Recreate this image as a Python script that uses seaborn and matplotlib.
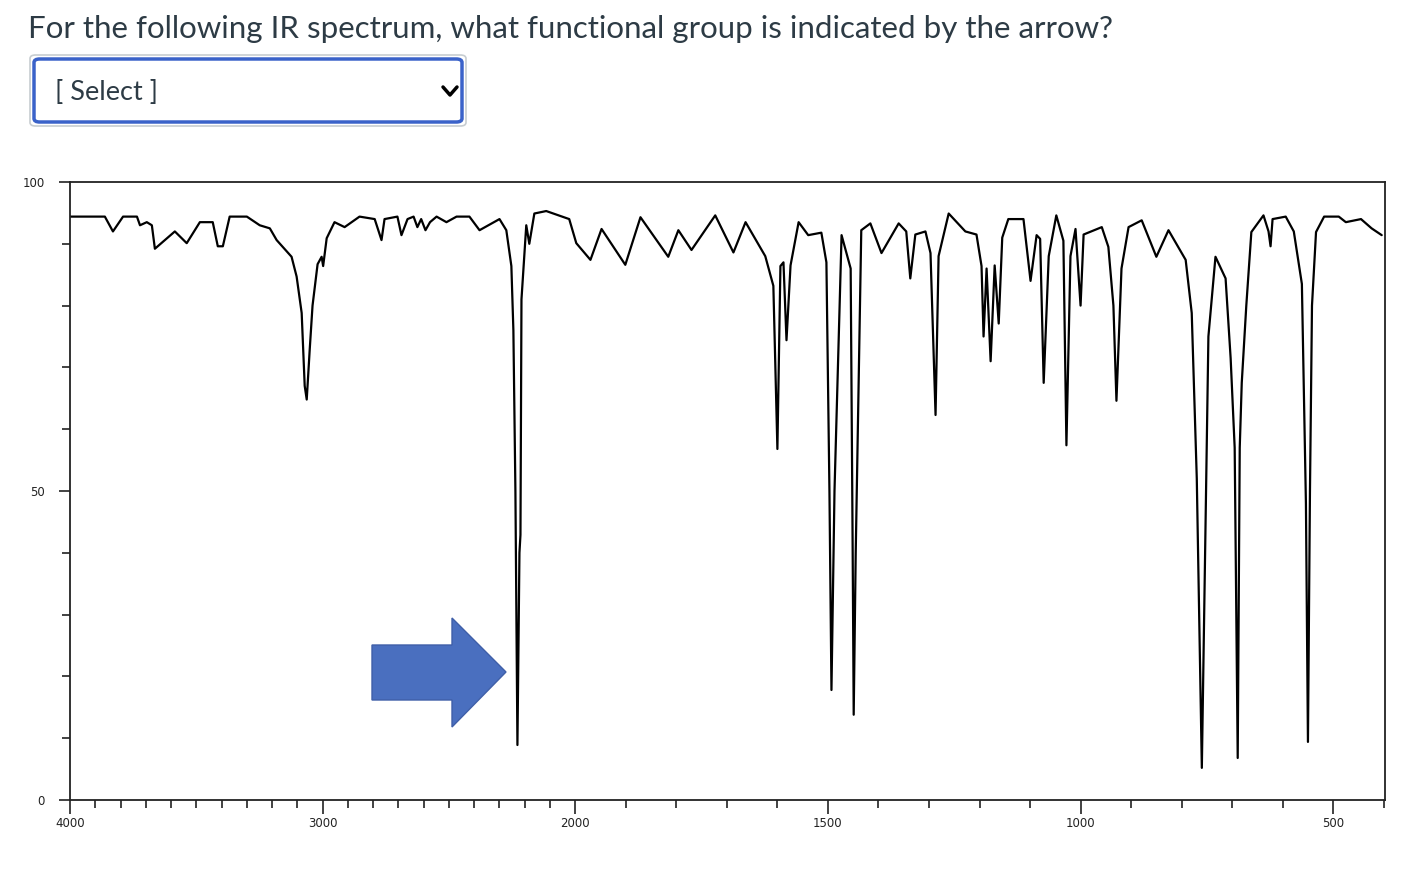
import matplotlib
matplotlib.use("Agg")
import matplotlib.pyplot as plt
import seaborn as sns
import numpy as np
import pandas as pd
from matplotlib.patches import FancyBboxPatch, Polygon
from matplotlib.ticker import FixedLocator, FixedFormatter

question = "For the following IR spectrum, what functional group is indicated by the arrow?"
select_label = "[ Select ]"

wavenumber = [4000, 3862, 3830, 3790, 3735, 3723, 3696, 3676, 3664, 3585, 3538, 3486, 3435, 3415,
              3395, 3368, 3300, 3249, 3209, 3182, 3123, 3103, 3083, 3071, 3063, 3051, 3040, 3020,
              3004, 2998, 2984, 2953, 2913, 2854, 2794, 2767, 2755, 2704, 2688, 2664, 2640, 2625,
              2610, 2593, 2575, 2549, 2510, 2470, 2419, 2379, 2300, 2273, 2253, 2245, 2237, 2229,
              2221, 2217,
              2213, 2194, 2182, 2162, 2115, 2024, 1998, 1970, 1948, 1901, 1871, 1816, 1796, 1770,
              1723, 1687, 1663, 1624, 1608, 1600, 1594, 1588, 1582, 1574, 1558, 1539, 1513, 1503,
              1497, 1493, 1487, 1473, 1455, 1451, 1449, 1445, 1434, 1416, 1394, 1360, 1345, 1337,
              1327, 1307, 1297, 1287,
              1281, 1261, 1228, 1206, 1196, 1192, 1186, 1178, 1170, 1162, 1155, 1143, 1113, 1099,
              1087, 1080, 1073, 1063, 1048, 1034, 1028, 1020, 1010, 1000, 994, 958, 945, 935, 929,
              919, 905, 879, 850, 826, 792, 780, 770, 760, 752, 747, 733, 713, 703, 695, 689, 685,
              681, 672, 662, 638,
              628, 624, 620, 594, 578, 562, 554, 550, 546, 542, 534, 518, 489, 475, 445, 424, 404]
transmittance = [94.4, 94.4, 92.0, 94.4, 94.4, 93.0, 93.5, 93.0, 89.2, 92.0, 90.1, 93.5, 93.5, 89.6,
                 89.6, 94.4, 94.4, 93.0, 92.5, 90.6, 87.9, 84.7, 78.8, 67.0, 64.8, 73.0, 80.0, 86.7,
                 87.9, 86.4, 90.9, 93.5, 92.7, 94.4, 94.0, 90.6, 94.0, 94.4, 91.4, 94.0, 94.4, 92.7,
                 94.0, 92.2, 93.5, 94.4, 93.5, 94.4, 94.4, 92.2, 94.0, 92.2, 86.4, 76.0, 50.0, 8.9,
                 40.0, 42.9,
                 81.0, 93.0, 90.0, 94.9, 95.3, 94.0, 90.1, 87.4, 92.4, 86.6, 94.3, 87.9, 92.2, 89.0,
                 94.6, 88.6, 93.5, 88.0, 83.2, 56.8, 86.4, 87.0, 74.4, 86.5, 93.5, 91.4, 91.8, 87.0,
                 50.0, 17.8, 50.0, 91.4, 86.0, 40.0, 13.8, 40.0, 92.2, 93.3, 88.5, 93.3, 92.0, 84.4,
                 91.5, 92.0, 88.5, 62.3,
                 88.0, 94.9, 92.0, 91.5, 86.4, 75.0, 86.0, 71.0, 86.5, 77.1, 91.0, 94.0, 94.0, 84.0,
                 91.4, 90.8, 67.5, 88.0, 94.6, 90.5, 57.4, 88.0, 92.4, 80.0, 91.5, 92.7, 89.5, 80.0, 64.6,
                 86.0, 92.7, 93.8, 87.9, 92.2, 87.4, 78.8, 52.0, 5.2, 48.0, 75.0, 87.9, 84.4, 71.5, 57.0,
                 6.8, 57.0, 67.5, 80.0, 91.9, 94.6,
                 92.0, 89.6, 94.0, 94.4, 92.0, 83.5, 48.0, 9.4, 50.0, 80.0, 91.9, 94.4, 94.4,
                 93.5, 94.0, 92.5, 91.4]

def to_u(w):
    w = np.asarray(w, dtype=float)
    return np.where(w >= 2000, (4000 - w) / 1000.0, 2 + (2000 - w) / 500.0)

df = pd.DataFrame({"u": to_u(wavenumber), "T": transmittance})

sns.set_style("white")
W, H = 1406, 888
fig = plt.figure(figsize=(W / 100, H / 100), dpi=100)

def fx(px): return px / W
def fy(py): return 1 - py / H

ax = fig.add_axes([fx(70), fy(800), fx(1385) - fx(70), fy(182) - fy(800)])
sns.lineplot(data=df, x="u", y="T", ax=ax, color="black", linewidth=1.6, sort=False,
             estimator=None)
ax.set_xlim(0, 5.205)
ax.set_ylim(0, 100)
ax.set_xlabel("")
ax.set_ylabel("")
for s in ax.spines.values():
    s.set_color("#222222")
    s.set_linewidth(1.3)

major_w = [4000, 3000, 2000, 1500, 1000, 500]
major_lbl = ["4000", "3000", "2000", "1500", "1000", "500"]
ax.xaxis.set_major_locator(FixedLocator(to_u(major_w)))
ax.xaxis.set_major_formatter(FixedFormatter(major_lbl))
minor_w = [w for w in range(4000, 399, -100) if w not in major_w]
ax.xaxis.set_minor_locator(FixedLocator(to_u(minor_w)))
ax.yaxis.set_major_locator(FixedLocator([0, 50, 100]))
ax.yaxis.set_major_formatter(FixedFormatter(["0", "50", "100"]))
ax.yaxis.set_minor_locator(FixedLocator(list(range(10, 100, 10))))
ax.tick_params(axis="x", which="major", direction="out", length=10, width=1.2, colors="#222222",
               labelsize=8.5, pad=2, bottom=True)
ax.tick_params(axis="x", which="minor", direction="out", length=6, width=1.2, colors="#222222",
               bottom=True)
ax.tick_params(axis="y", which="major", direction="out", length=8, width=1.2, colors="#222222",
               labelsize=8.5, pad=10, left=True)
ax.tick_params(axis="y", which="minor", direction="out", length=6, width=1.2, colors="#222222",
               left=True)

# question text and select box
fig.text(fx(28), fy(29), question, fontsize=22.5, family="Lato", color="#2d3b45", va="center")
fig.patches.append(FancyBboxPatch((fx(30), fy(126)), fx(436), fy(55) - fy(126),
                                  boxstyle="round,pad=0,rounding_size=0.004",
                                  transform=fig.transFigure, fc="white", ec="#c7cdd1", lw=1.2))
fig.patches.append(FancyBboxPatch((fx(34), fy(122)), fx(428), fy(59) - fy(122),
                                  boxstyle="round,pad=0,rounding_size=0.004",
                                  transform=fig.transFigure, fc="white", ec="#3a62c9", lw=2.5))
fig.text(fx(55), fy(92), select_label, fontsize=19.5, family="Lato", color="#2d3b45", va="center")
fig.lines.append(plt.Line2D([fx(443), fx(450), fx(457)], [fy(87), fy(95), fy(87)],
                            transform=fig.transFigure, color="black", lw=2.5))

# arrow annotation
arrow_px = [(372, 645), (452, 645), (452, 618), (506, 672), (452, 727), (452, 700), (372, 700)]
fig.patches.append(Polygon([(fx(a), fy(b)) for a, b in arrow_px], closed=True,
                           transform=fig.transFigure, fc="#4a6fbf", ec="#3f5fa8", lw=1))

fig.savefig("out.png", dpi=100, facecolor="white")
